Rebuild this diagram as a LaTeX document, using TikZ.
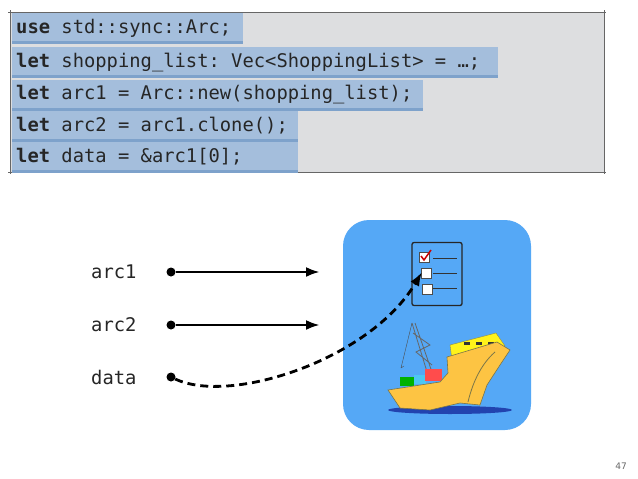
\documentclass[tikz,border=0pt]{standalone}
\usepackage{fontspec}
\setmonofont{DejaVu Sans Mono}
\setsansfont{DejaVu Sans}
\usetikzlibrary{arrows.meta}
\begin{document}
\begin{tikzpicture}[x=1pt,y=-1pt,
  code/.style={anchor=west,inner sep=0pt,font=\ttfamily\fontsize{18.8}{20}\selectfont,text=black!85},
  lbl/.style={anchor=west,inner sep=0pt,font=\ttfamily\fontsize{18.8}{20}\selectfont,text=black!85},
  dot/.style={circle,fill=black,inner sep=0pt,minimum size=9pt},
  arr/.style={-{Latex[length=14pt,width=10pt]},line width=2.8pt},
  hl/.style={fill=hlblue}]
\definecolor{hlblue}{HTML}{A4BEDC}
\definecolor{hledge}{HTML}{7EA2CB}
\definecolor{codebg}{HTML}{DDDEE0}
\definecolor{icon}{HTML}{55A8F6}
\definecolor{hull}{HTML}{FDC443}
\useasboundingbox (0,0) rectangle (638,479);
\fill[white] (0,0) rectangle (638,479);
% code box
\fill[codebg] (10,12) rectangle (604,172);
\draw[black!60,line width=0.6pt] (8,12) -- (606,12) (8,172) -- (606,172) (10,10) -- (10,174) (604,10) -- (604,174);
\foreach \y/\w in {13/243,47/498,80/423,111/298,142/298}{
  \fill[hlblue] (12,\y) rectangle (\w,\y+30);
  \fill[hledge] (12,\y+28) rectangle (\w,\y+30.5);
}
\node[code] (c1) at (16,28) {\textbf{use} std::sync::Arc;};
\node[code] (c2) at (16,63) {\textbf{let} shopping\_list: Vec<ShoppingList> = …;};
\node[code] (c3) at (16,95) {\textbf{let} arc1 = Arc::new(shopping\_list);};
\node[code] (c4) at (16,126) {\textbf{let} arc2 = arc1.clone();};
\node[code] (c5) at (16,157) {\textbf{let} data = \&arc1[0];};
% labels
\node[lbl] (l1) at (91,272) {arc1};
\node[lbl] (l2) at (91,325) {arc2};
\node[lbl] (l3) at (91,377) {data};
\node[dot] (d1) at (171,272) {};
\node[dot] (d2) at (171,325) {};
\node[dot] (d3) at (171,377) {};
\coordinate (e1) at (320,272);
\coordinate (e2) at (320,325);
% icon
\fill[icon,rounded corners=26pt] (343,220) rectangle (531,430);
% clipboard
\node[draw=black!85,fill=icon,line width=1.3pt,rounded corners=2pt,minimum width=50pt,minimum height=63pt,inner sep=0pt] (clip) at (437,274) {};
\foreach \y in {258,273,288}{\draw[black!80,line width=1pt] (433,\y) -- (457,\y);}
\draw[black!70,fill=white] (419,252) rectangle (429,262);
\draw[black!70,fill=white] (421,268) rectangle (431,278);
\draw[black!70,fill=white] (422,284) rectangle (432,294);
\draw[red!80!black,line width=1.5pt] (421,256) -- (424,260) -- (431,250);
\coordinate (tgt) at (422,272);
% ship
\fill[blue!50!black,opacity=0.6] (450,410) ellipse (62 and 4);
\draw[black!70] (412,323) -- (401,368) (401,368) -- (404,366);
\draw[gray!80!black,line width=0.8pt] (412,323) -- (428,375) (415,323) -- (433,375) (413,333)--(430,345)--(416,352)--(432,365);
\fill[green!70!black] (400,377) rectangle (414,386);
\fill[cyan!70] (414,375) rectangle (426,384);
\fill[red!70] (425,369) rectangle (442,381);
\draw[yellow!50!black,fill=yellow!90] (450,345) -- (496,333) -- (505,346) -- (452,360) -- cycle;
\foreach \x in {464,476,488}{\fill[black!80] (\x,345) rectangle +(6,-3);}
\draw[black!60!yellow,fill=hull,line width=0.6pt] (388,390) -- (440,382) -- (448,373) -- (447,357) -- (497,342) -- (510,350) -- (500,365) -- (487,385) -- (480,405) -- (460,403) -- (430,410) -- (400,408) -- cycle;
\draw[black!60!yellow,line width=0.8pt] (495,352) .. controls (480,365) and (472,385) .. (468,402);
% arrows
\draw[arr] (d1) -- (e1);
\draw[arr] (d2) -- (e2);
\draw[arr,dash pattern=on 8pt off 5pt] (d3) .. controls (230,405) and (370,360) .. (tgt);
\node[font=\sffamily\fontsize{9}{10}\selectfont,text=black!60] (pg) at (621,466) {47};
\end{tikzpicture}
\end{document}
